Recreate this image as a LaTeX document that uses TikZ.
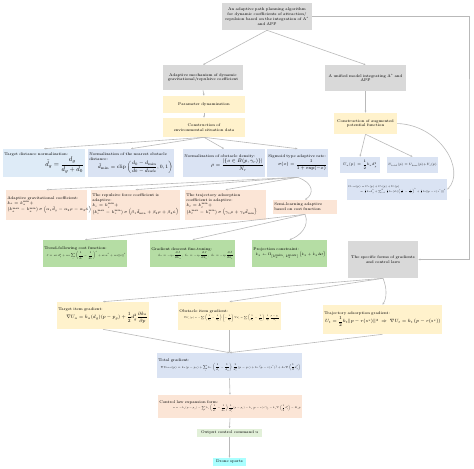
\RequirePackage{fix-cm}
\documentclass[tikz,border=0pt]{standalone}
\usepackage{amsmath}
\usetikzlibrary{arrows.meta}

\definecolor{boxgray}{RGB}{217,217,217}
\definecolor{boxyellow}{RGB}{255,242,204}
\definecolor{boxblue}{RGB}{218,227,243}
\definecolor{boxlightblue}{RGB}{222,235,247}
\definecolor{boxpeach}{RGB}{251,229,214}
\definecolor{boxgreen}{RGB}{181,221,164}
\definecolor{boxpalegreen}{RGB}{226,240,217}
\definecolor{boxcyan}{RGB}{170,255,255}
\definecolor{linegray}{RGB}{185,185,185}

\newcommand{\setfs}[2]{\fontsize{#1}{#2}\selectfont}
\newcommand{\ctrline}[1]{\par\hspace*{\fill}#1\hspace*{\fill}}

\tikzset{every picture/.style={line width=0.9pt},
  box/.style={inner sep=2pt, align=left, font=\setfs{5.9}{7.2}},
  graybox/.style={box, fill=boxgray, align=center},
  yelbox/.style={box, fill=boxyellow},
  bluebox/.style={box, fill=boxblue},
  peachbox/.style={box, fill=boxpeach},
  greenbox/.style={box, fill=boxgreen},
  link/.style={draw=linegray, -{Stealth[length=3.2pt,width=2.8pt]}}
}

\begin{document}
\begin{tikzpicture}[x=1.5pt,y=1.5pt,yscale=-1,xscale=1]
	\useasboundingbox (0,0) rectangle (474,468);
	
	% Top level
	\node [graybox, text width=131pt, minimum height=40.5pt] (title) at (267,16.5) {An adaptive path planning algorithm\\ for dynamic coefficients of attraction/\\ repulsion based on the integration of A$^*$\\ and APF};
	\node [graybox, text width=116pt, minimum height=37.5pt] (adapt) at (203,77.5) {Adaptive mechanism of dynamic\\ gravitational/repulsive coefficient};
	\node [graybox, text width=117.5pt, minimum height=39pt] (unified) at (365.5,78) {A unified model integrating A$^*$ and\\ APF};
	
	% Left branch
	\node [yelbox, align=center, text width=119pt, minimum height=25.5pt] (param) at (204,104.5) {Parameter dynamization};
	\node [yelbox, align=center, text width=119pt, minimum height=28.5pt] (envdata) at (204,127.5) {Construction of\\ environmental situation data};
	
	\node [box, fill=boxlightblue, text width=119pt, minimum height=42pt] (tdn) at (44,163) {Target distance normalization:\ctrline{\setfs{10}{12}$\tilde{d}_g=\dfrac{d_g}{d_g+d_0}$}};
	\node [bluebox, text width=125pt, minimum height=42pt] (nod) at (131,163) {Normalization of the nearest obstacle\\ distance:\ctrline{\setfs{7.6}{9}$\tilde{d}_{\min}=\mathrm{clip}\left(\dfrac{d_0-d_{\min}}{d_0-d_{\mathrm{safe}}},0,1\right)$}};
	\node [bluebox, text width=119pt, minimum height=42pt] (den) at (224,163) {Normalization of obstacle density:\ctrline{\setfs{7.6}{9}$\rho=\dfrac{\left|\{o\in B(p,\gamma_r)\}\right|}{N_r}$}};
	\node [bluebox, text width=87.5pt, minimum height=42pt] (sig) at (297.5,163) {Sigmoid type adaptive rate:\ctrline{\setfs{6.6}{8}$\sigma(x)=\dfrac{1}{1+\exp(-x)}$}};
	
	\node [peachbox, text width=117.5pt, minimum height=45pt] (kgrav) at (46.5,205) {Adaptive gravitational coefficient:\\ $k_a=k_a^{\min}+$\\ $\left(k_a^{\max}-k_a^{\min}\right)\sigma\left(\alpha_1\tilde d_g-\alpha_2\rho-\alpha_3\dot\kappa\right)$};
	\node [peachbox, text width=129.5pt, minimum height=45pt] (krep) at (135.5,205) {The repulsive force coefficient is\\ adaptive:\\ $k_r=k_r^{\min}+$\\ $\left(k_r^{\max}-k_r^{\min}\right)\sigma\left(\beta_1\tilde d_{\min}+\beta_2\rho+\beta_3\dot\kappa\right)$};
	\node [peachbox, text width=117.5pt, minimum height=45pt] (ktraj) at (225.5,205) {The trajectory adsorption\\ coefficient is adaptive:\\ $k_t=k_t^{\min}+$\\ $\left(k_t^{\max}-k_t^{\min}\right)\sigma\left(\gamma_1\rho+\gamma_2\tilde d_{\min}\right)$};
	\node [peachbox, text width=92pt, minimum height=21pt] (semi) at (305,207) {Semi-learning adaptive\\ based on cost function};
	
	\node [greenbox, text width=122pt, minimum height=40.5pt] (trend) at (85,253.5) {Trend-following cost function:\ctrline{\setfs{4}{6}$J=w_1d_g^2+w_2\displaystyle\sum_i\left(\frac{1}{d_i}-\frac{1}{d_0}\right)^2+w_3e^2+w_4\|\dot v\|^2$}};
	\node [greenbox, text width=123.5pt, minimum height=40.5pt] (gdesc) at (192.5,253.5) {Gradient descent fine-tuning:\ctrline{\setfs{4.1}{6}$\dot k_a=-\eta_a\dfrac{\partial J}{\partial k_a},\ \dot k_r=-\eta_r\dfrac{\partial J}{\partial k_r},\ \dot k_t=-\eta_t\dfrac{\partial J}{\partial k_t}$}};
	\node [greenbox, text width=108.5pt, minimum height=40.5pt] (proj) at (289.5,253.5) {Projection constraint:\ctrline{\setfs{5}{7}$k_\ast\leftarrow\Pi_{[k_\ast^{\min},\,k_\ast^{\max}]}\left(k_\ast+\dot k_\ast\Delta t\right)$}};
	
	% Right branch
	\node [yelbox, align=center, text width=90.5pt, minimum height=31.5pt] (augment) at (365.5,123.5) {Construction of augmented\\ potential function};
	\node [bluebox, align=center, text width=56pt, minimum height=24pt] (Ua) at (360,165) {\setfs{5.4}{7}$U_a(p)=\dfrac{1}{2}k_a d_g^2$};
	\node [bluebox, align=center, text width=72.5pt, minimum height=24pt] (Utot) at (412.5,165) {\setfs{4.6}{6}$U_{\mathrm{total}}(p)=U_{\mathrm{base}}(p)+U_t(p)$};
	\node [bluebox, text width=146pt, minimum height=31.5pt] (Ubig) at (397,189.5) {\setfs{3.8}{6}$U_{\mathrm{total}}(p)=U_a(p)+U_r(p)+U_t(p)$\ctrline{$=\tfrac12 k_a d_g^2+\sum_{i=1}^{N}\tfrac12 k_r(d_i)\Bigl(\tfrac{1}{d_i}-\tfrac{1}{d_0}\Bigr)^2+\tfrac12 k_t\|p-r(s^*)\|^2$}};
	
	% Gradients and control laws
	\node [graybox, text width=101pt, minimum height=55.5pt] (specific) at (383,259.5) {The specific forms of gradients\\ and control laws};
	\node [yelbox, text width=134pt, minimum height=40.5pt] (tgrad) at (103,315.5) {Target item gradient:\ctrline{\setfs{7.2}{9}$\nabla U_a=k_a(d_g)(p-p_g)+\dfrac12 d_g^2\dfrac{\partial k_a}{\partial p}$}};
	\node [yelbox, text width=150.5pt, minimum height=42pt] (ograd) at (229.5,316) {Obstacle item gradient:\ctrline{\setfs{3.3}{5}$\nabla U_r(p)=-\displaystyle\sum\left(\frac{1}{d_i}-\frac{1}{d_0}\right)\left(-\frac{1}{d_i^2}\right)\nabla d_i=\sum\left(\frac{1}{d_i}-\frac{1}{d_0}\right)\frac{1}{d_i^2}\frac{p-p_i}{d_i}$}};
	\node [yelbox, text width=174.5pt, minimum height=43.5pt] (trgrad) at (382.5,319.5) {Trajectory adsorption gradient:\ctrline{\setfs{6.8}{9}$U_t=\dfrac12 k_t\|p-r(s^*)\|^2\ \Rightarrow\ \nabla U_t=k_t\left(p-r(s^*)\right)$}};
	
	\node [bluebox, text width=213.5pt, minimum height=37.5pt] (total) at (229.5,365.5) {Total gradient:\ctrline{\setfs{4}{6}$\nabla U_{\mathrm{total}}(p)=k_a(p-p_g)+\displaystyle\sum_i k_r\left(\frac{1}{d_i}-\frac{1}{d_0}\right)\frac{1}{d_i^2}(p-p_i)+k_t\left(p-r(s^*)\right)+k_a\nabla\left(\frac12 d_g^2\right)$}};
	\node [peachbox, text width=212pt, minimum height=34.5pt] (control) at (230,406.5) {Control law expansion form:\ctrline{\setfs{3.6}{6}$u=-k_a(p-p_g)-\displaystyle\sum_i k_r\left(\frac1{d_i}-\frac1{d_0}\right)\frac1{d_i^2}(p-p_i)-k_t\left(p-r(s^*)\right)-k_a\nabla\left(\frac12 d_g^2\right)-K_d\dot p$}};
	\node [box, fill=boxpalegreen, align=center, inner sep=1pt, text width=95.5pt, minimum height=12pt] (output) at (229.5,432.5) {Output control command u};
	\node [box, fill=boxcyan, align=center, inner sep=1pt, text width=47.5pt, minimum height=12pt] (drone) at (229.5,462) {Drone sports};
	
	\coordinate (rt) at (469,140);
	
	%Straight Lines
	\draw [link] (title.south) -- (adapt.north);
	\draw [link] (title.south) -- (unified.north);
	\draw [link] (title.east) -| (rt) |- (specific.east);
	\draw [link] (adapt.south) -- (param.north);
	\draw [link] (param.south) -- (envdata.north);
	\foreach \n in {tdn,nod,den,sig}
		\draw [link] (envdata.south) -- (\n.north);
	\draw [link] (unified.south) -- (augment.north);
	\draw [link] (augment.south) -- (Ua.north);
	\draw [link] (augment.south) -- (Utot.north);
	\draw [link] (augment.east) .. controls (440,125) and (466,170) .. (Ubig.east);
	\foreach \n in {kgrav,krep,ktraj}
		\draw [link] (sig.south) -- (\n.north);
	\draw [link] (sig.south) .. controls (314,183) and (314,194) .. (semi.north);
	\draw [link] (semi.south) -- (trend.north);
	\draw [link] (semi.south) -- (gdesc.north);
	\draw [link] (semi.south) .. controls (310,226) and (300,236) .. (proj.north);
	\draw [link] (specific.south) -- (tgrad.north);
	\draw [link] (specific.south) -- (ograd.north);
	\draw [link] (specific.south) .. controls (387,288) and (387,298) .. (trgrad.north);
	\foreach \n in {tgrad,ograd,trgrad}
		\draw [link] (\n.south) -- (total.north);
	\draw [link] (total.south) -- (control.north);
	\draw [link] (control.south) -- (output.north);
	\draw [link] (output.south) -- (drone.north);
	
\end{tikzpicture}
\end{document}
